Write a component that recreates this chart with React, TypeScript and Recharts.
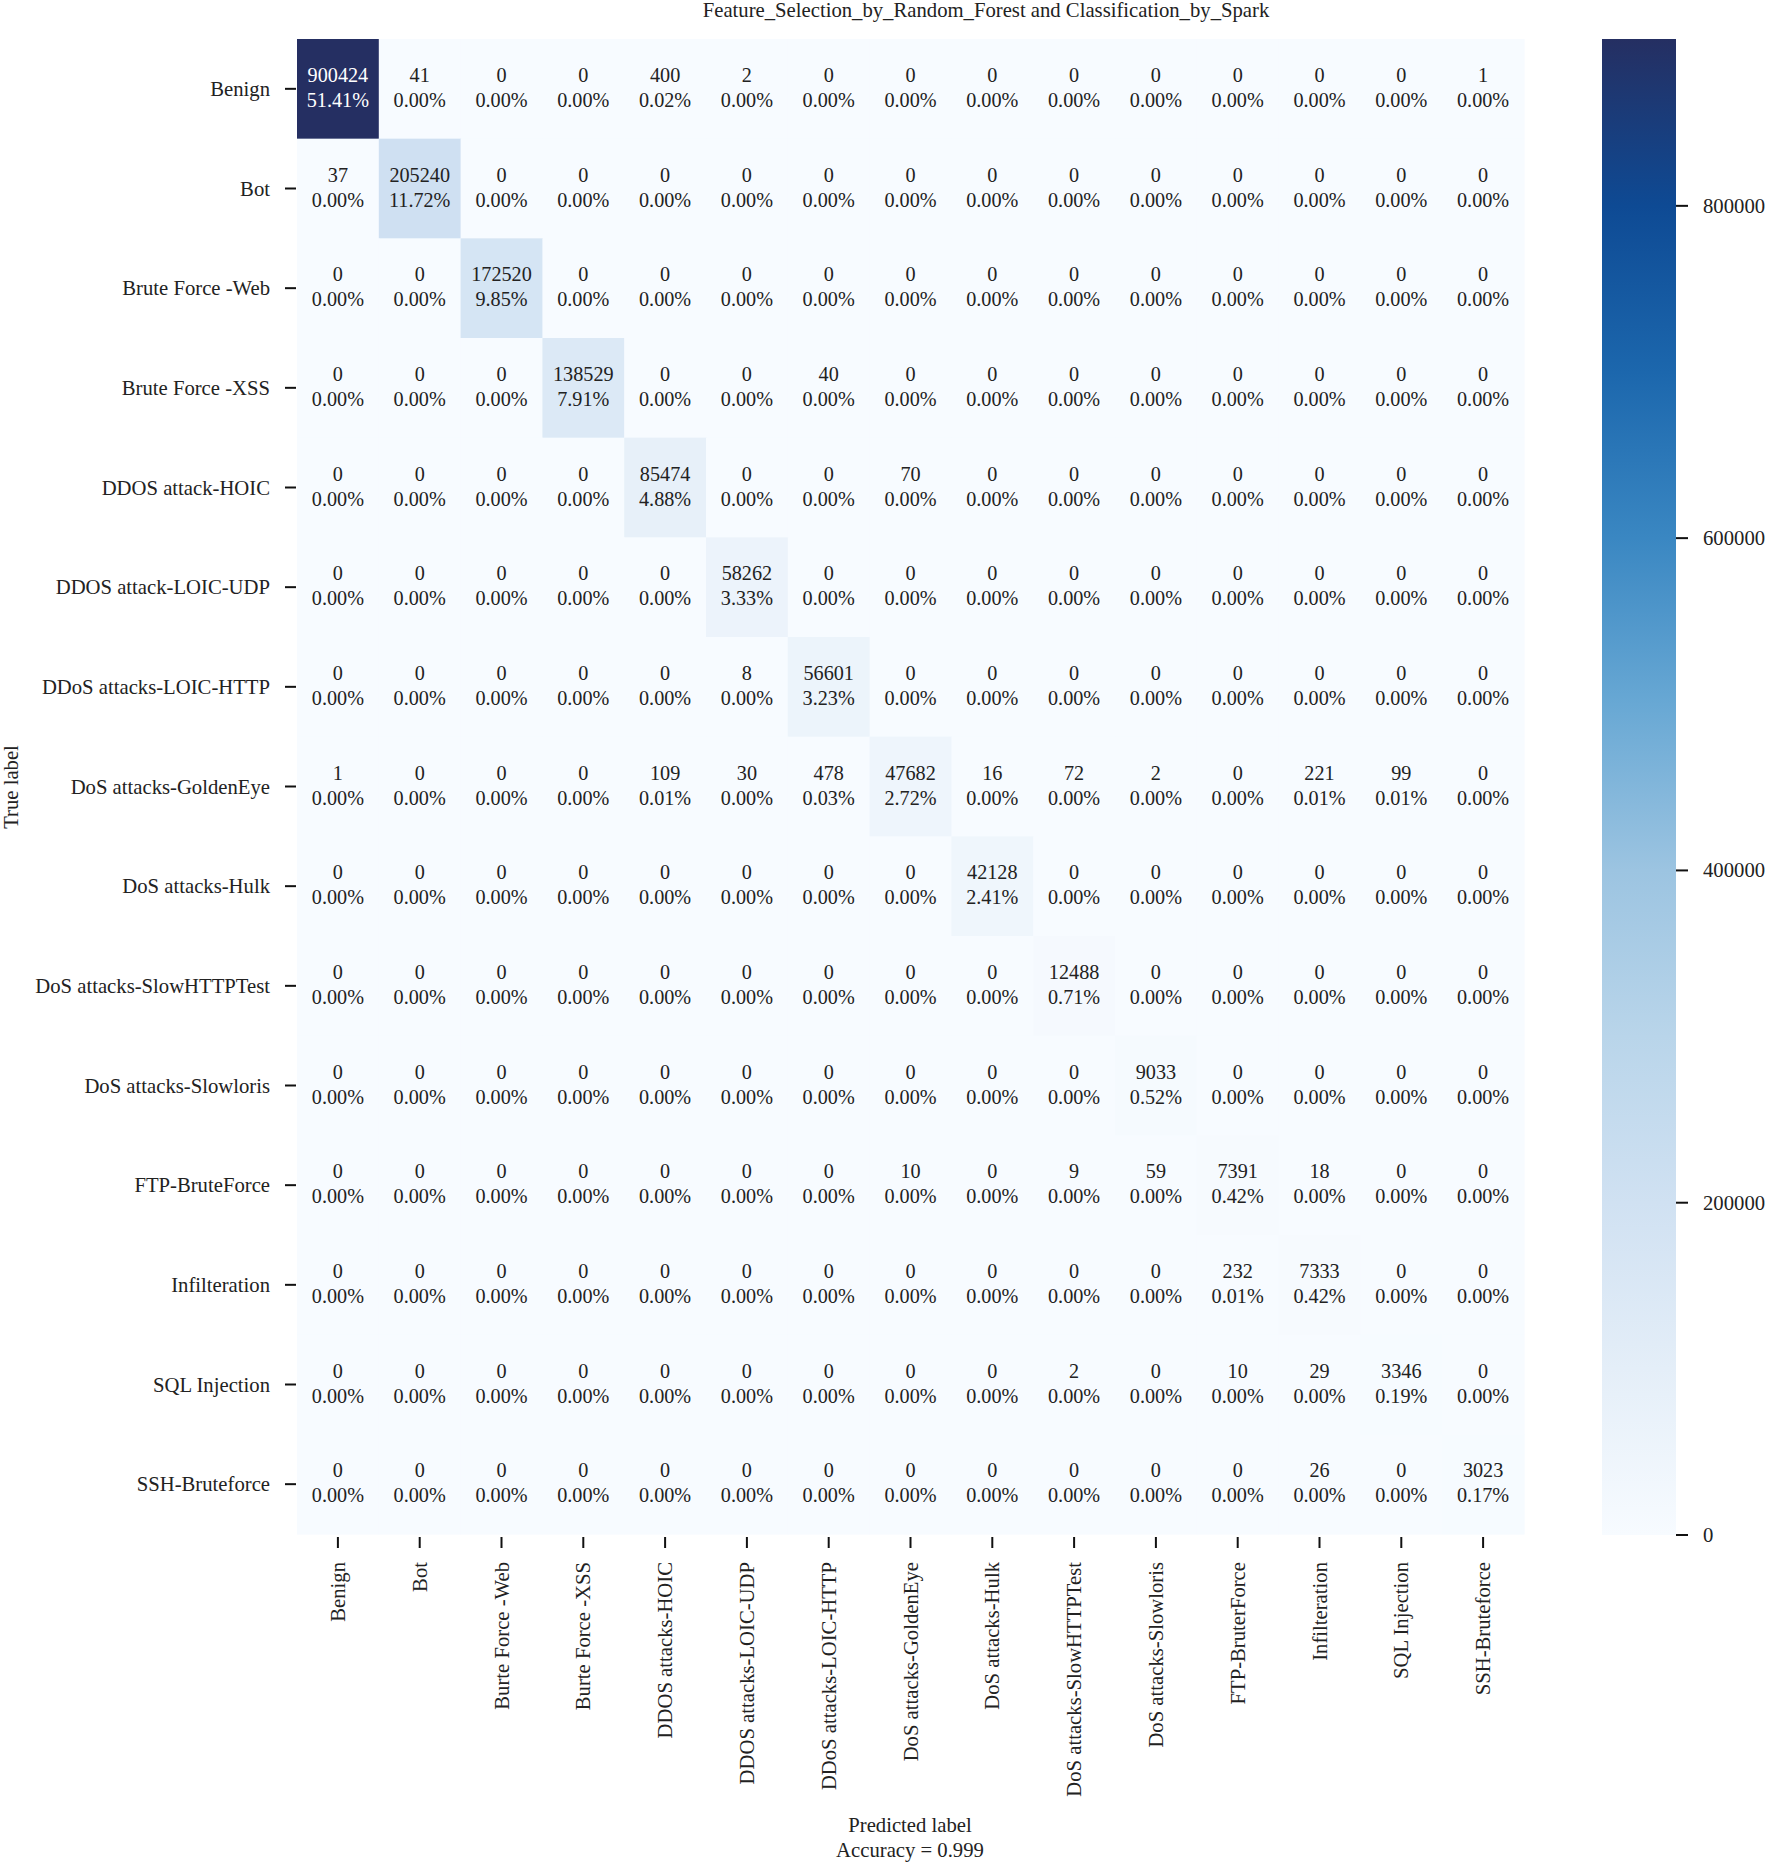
import React from 'react';
import { ScatterChart, Scatter, XAxis, YAxis, BarChart, Bar } from 'recharts';

const trueLabels = [
  'Benign', 'Bot', 'Brute Force -Web', 'Brute Force -XSS', 'DDOS attack-HOIC',
  'DDOS attack-LOIC-UDP', 'DDoS attacks-LOIC-HTTP', 'DoS attacks-GoldenEye',
  'DoS attacks-Hulk', 'DoS attacks-SlowHTTPTest', 'DoS attacks-Slowloris',
  'FTP-BruteForce', 'Infilteration', 'SQL Injection', 'SSH-Bruteforce',
];

const predLabels = [
  'Benign', 'Bot', 'Burte Force -Web', 'Burte Force -XSS', 'DDOS attacks-HOIC',
  'DDOS attacks-LOIC-UDP', 'DDoS attacks-LOIC-HTTP', 'DoS attacks-GoldenEye',
  'DoS attacks-Hulk', 'DoS attacks-SlowHTTPTest', 'DoS attacks-Slowloris',
  'FTP-BruterForce', 'Infilteration', 'SQL Injection', 'SSH-Bruteforce',
];

// rows = true label, columns = predicted label
const counts = [
  [900424, 41, 0, 0, 400, 2, 0, 0, 0, 0, 0, 0, 0, 0, 1],
  [37, 205240, 0, 0, 0, 0, 0, 0, 0, 0, 0, 0, 0, 0, 0],
  [0, 0, 172520, 0, 0, 0, 0, 0, 0, 0, 0, 0, 0, 0, 0],
  [0, 0, 0, 138529, 0, 0, 40, 0, 0, 0, 0, 0, 0, 0, 0],
  [0, 0, 0, 0, 85474, 0, 0, 70, 0, 0, 0, 0, 0, 0, 0],
  [0, 0, 0, 0, 0, 58262, 0, 0, 0, 0, 0, 0, 0, 0, 0],
  [0, 0, 0, 0, 0, 8, 56601, 0, 0, 0, 0, 0, 0, 0, 0],
  [1, 0, 0, 0, 109, 30, 478, 47682, 16, 72, 2, 0, 221, 99, 0],
  [0, 0, 0, 0, 0, 0, 0, 0, 42128, 0, 0, 0, 0, 0, 0],
  [0, 0, 0, 0, 0, 0, 0, 0, 0, 12488, 0, 0, 0, 0, 0],
  [0, 0, 0, 0, 0, 0, 0, 0, 0, 0, 9033, 0, 0, 0, 0],
  [0, 0, 0, 0, 0, 0, 0, 10, 0, 9, 59, 7391, 18, 0, 0],
  [0, 0, 0, 0, 0, 0, 0, 0, 0, 0, 0, 232, 7333, 0, 0],
  [0, 0, 0, 0, 0, 0, 0, 0, 0, 2, 0, 10, 29, 3346, 0],
  [0, 0, 0, 0, 0, 0, 0, 0, 0, 0, 0, 0, 26, 0, 3023],
];

const colorbarTicks = [0, 200000, 400000, 600000, 800000];

// value -> colour stops of the blue colour map
const cmapValues = [0, 100000, 200000, 300000, 400000, 500000, 600000, 700000, 800000, 900424];
const cmapColors = ['#f7fbff', '#e4eef8', '#d0e1f2', '#b9d5ea', '#9cc4e1', '#68a8d4', '#3a87c2', '#1c67ad', '#0e4a94', '#252f62'];

const FONT = '"Liberation Serif", "Times New Roman", serif';
const TEXT = '#222222';
const LABEL_SIZE = 20.7;
const CELL_SIZE = 20.2;

const vmax = Math.max(...counts.flat());
const total = counts.flat().reduce((a, b) => a + b, 0);

// plot box of the heatmap
const PLOT_LEFT = 297;
const PLOT_RIGHT = 1524;
const PLOT_TOP = 39;
const PLOT_BOTTOM = 1534;
const CHART_W = 1560;
const CHART_H = 1864;
const CELL_W = (PLOT_RIGHT - PLOT_LEFT) / predLabels.length;
const CELL_H = (PLOT_BOTTOM - PLOT_TOP) / trueLabels.length;

const hexToRgb = (h: string) => [1, 3, 5].map((i) => parseInt(h.slice(i, i + 2), 16));

const colorFor = (v: number) => {
  for (let i = 1; i < cmapValues.length; i++) {
    if (v <= cmapValues[i]) {
      const t = (v - cmapValues[i - 1]) / (cmapValues[i] - cmapValues[i - 1]);
      const a = hexToRgb(cmapColors[i - 1]);
      const b = hexToRgb(cmapColors[i]);
      const c = a.map((x, k) => Math.round(x + (b[k] - x) * t));
      return `rgb(${c[0]},${c[1]},${c[2]})`;
    }
  }
  return cmapColors[cmapColors.length - 1];
};

const cells = counts.flatMap((row, r) =>
  row.map((value, c) => ({ col: c, row: r, value })),
);

const HeatCell = (props: any) => {
  const { cx, cy, payload } = props;
  if (cx == null || cy == null) return null;
  const v: number = payload.value;
  const pct = ((v / total) * 100).toFixed(2) + '%';
  const textFill = v / vmax > 0.6 ? '#ffffff' : TEXT;
  return (
    <g>
      <rect
        x={cx - CELL_W / 2}
        y={cy - CELL_H / 2}
        width={CELL_W + 0.6}
        height={CELL_H + 0.6}
        fill={colorFor(v)}
      />
      <text x={cx} y={cy - 7} textAnchor="middle" fontFamily={FONT} fontSize={CELL_SIZE} fill={textFill}>
        {v}
      </text>
      <text x={cx} y={cy + 18} textAnchor="middle" fontFamily={FONT} fontSize={CELL_SIZE} fill={textFill}>
        {pct}
      </text>
    </g>
  );
};

const XTick = (props: any) => {
  const { x, y, payload } = props;
  return (
    <g>
      <line x1={x} x2={x} y1={y + 3} y2={y + 14} stroke="#111" strokeWidth={2} />
      <text
        transform={`translate(${x}, ${y + 28}) rotate(-90)`}
        textAnchor="end"
        dominantBaseline="central"
        fontFamily={FONT}
        fontSize={LABEL_SIZE}
        fill={TEXT}
      >
        {predLabels[payload.value]}
      </text>
    </g>
  );
};

const YTick = (props: any) => {
  const { x, y, payload } = props;
  return (
    <g>
      <line x1={x - 12} x2={x - 1} y1={y} y2={y} stroke="#111" strokeWidth={2} />
      <text x={x - 27} y={y + 7} textAnchor="end" fontFamily={FONT} fontSize={LABEL_SIZE} fill={TEXT}>
        {trueLabels[payload.value]}
      </text>
    </g>
  );
};

const CbTick = (props: any) => {
  const { x, y, payload } = props;
  return (
    <g>
      <line x1={x} x2={x + 12} y1={y} y2={y} stroke="#111" strokeWidth={2} />
      <text x={x + 27} y={y + 7} textAnchor="start" fontFamily={FONT} fontSize={LABEL_SIZE} fill={TEXT}>
        {payload.value}
      </text>
    </g>
  );
};

const indexTicks = predLabels.map((_, i) => i);

const CB_LEFT = 1602;
const CB_WIDTH = 74;
const CB_BOTTOM = 1535;
const colorbarData = [{ name: 'scale', v: vmax }];

export default function App() {
  return (
    <div style={{ position: 'absolute', left: 0, top: 0, width: 1770, height: 1864, background: '#fff' }}>
      <svg width={0} height={0} style={{ position: 'absolute' }}>
        <defs>
          <linearGradient id="cbGrad" x1="0" y1="1" x2="0" y2="0">
            {cmapValues.map((v, i) => (
              <stop key={i} offset={v / vmax} stopColor={cmapColors[i]} />
            ))}
          </linearGradient>
        </defs>
      </svg>

      <div style={{ position: 'absolute', left: 0, top: 0 }}>
        <ScatterChart
          width={CHART_W}
          height={CHART_H}
          margin={{ top: PLOT_TOP, right: CHART_W - PLOT_RIGHT, bottom: CHART_H - PLOT_BOTTOM - 250, left: 0 }}
        >
          <XAxis
            type="number"
            dataKey="col"
            domain={[-0.5, predLabels.length - 0.5]}
            ticks={indexTicks}
            interval={0}
            height={250}
            axisLine={false}
            tickLine={false}
            tickSize={0}
            tickMargin={0}
            tick={<XTick />}
          />
          <YAxis
            type="number"
            dataKey="row"
            domain={[-0.5, trueLabels.length - 0.5]}
            ticks={indexTicks}
            interval={0}
            reversed
            width={PLOT_LEFT}
            axisLine={false}
            tickLine={false}
            tickSize={0}
            tickMargin={0}
            tick={<YTick />}
          />
          <Scatter data={cells} shape={HeatCell} isAnimationActive={false} />
        </ScatterChart>
      </div>

      <div style={{ position: 'absolute', left: CB_LEFT, top: 0 }}>
        <BarChart
          width={1770 - CB_LEFT}
          height={CHART_H}
          data={colorbarData}
          barCategoryGap={0}
          margin={{ top: PLOT_TOP, right: 1770 - CB_LEFT - CB_WIDTH - 90, bottom: CHART_H - CB_BOTTOM, left: 0 }}
        >
          <XAxis dataKey="name" hide />
          <YAxis
            orientation="right"
            domain={[0, vmax]}
            ticks={colorbarTicks}
            interval={0}
            width={90}
            axisLine={false}
            tickLine={false}
            tickSize={0}
            tickMargin={0}
            tick={<CbTick />}
          />
          <Bar dataKey="v" fill="url(#cbGrad)" isAnimationActive={false} />
        </BarChart>
      </div>

      <svg width={1770} height={1864} style={{ position: 'absolute', left: 0, top: 0, pointerEvents: 'none' }}>
        <text x={986} y={17} textAnchor="middle" fontFamily={FONT} fontSize={LABEL_SIZE} fill={TEXT}>
          Feature_Selection_by_Random_Forest and Classification_by_Spark
        </text>
        <text
          transform="translate(11, 787) rotate(-90)"
          textAnchor="middle"
          dominantBaseline="central"
          fontFamily={FONT}
          fontSize={LABEL_SIZE}
          fill={TEXT}
        >
          True label
        </text>
        <text x={910} y={1832} textAnchor="middle" fontFamily={FONT} fontSize={LABEL_SIZE} fill={TEXT}>
          Predicted label
        </text>
        <text x={910} y={1857} textAnchor="middle" fontFamily={FONT} fontSize={LABEL_SIZE} fill={TEXT}>
          Accuracy = 0.999
        </text>
      </svg>
    </div>
  );
}
